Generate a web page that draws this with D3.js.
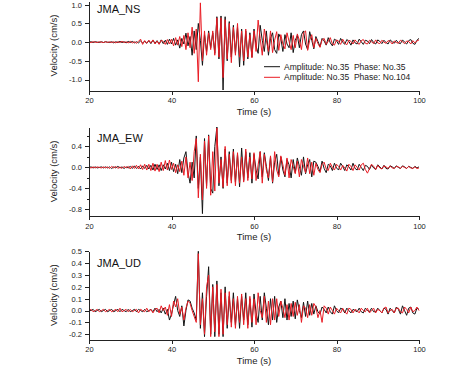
<!DOCTYPE html>
<meta charset="utf-8">
<style>

body {
  margin: 0;
  background: #fff;
}

svg {
  font-family: "Liberation Sans", Arial, sans-serif;
}

.axis path,
.axis line {
  stroke: #222;
  stroke-width: 1px;
  shape-rendering: crispEdges;
}

.axis text {
  font-size: 7.5px;
  fill: #222;
}

.trace {
  fill: none;
  stroke-width: 1px;
  stroke-linejoin: round;
}

.label {
  font-size: 9.5px;
  fill: #222;
}

.title {
  font-size: 11px;
  fill: #111;
}

.legend text {
  font-size: 8.5px;
  fill: #222;
  white-space: pre;
}

</style>
<svg width="474" height="366"></svg>
<script src="https://cdn.jsdelivr.net/npm/d3@7"></script>
<script>

// sample times (s), 0.5 s step from 20 to 100
var time = d3.range(0, 161).map(function(i) { return 20 + i * 0.5; });

var xTicks = [20, 40, 60, 80, 100];

var seriesNames = ["Amplitude: No.35  Phase: No.35", "Amplitude: No.35  Phase: No.104"];
var seriesColors = ["#141414", "#ea1c24"];

// JMA_NS velocity (cm/s)
var ns_ph35 = [
  0.00,0.01,-0.01,0.01,0.00,-0.01,0.01,-0.01,0.01,0.00,
  -0.01,0.01,-0.02,0.01,-0.01,0.02,-0.01,0.01,-0.02,0.02,
  -0.01,0.02,-0.02,0.01,-0.02,0.03,-0.02,0.02,-0.03,0.04,
  -0.04,0.05,-0.03,0.04,-0.05,0.06,-0.04,0.05,-0.06,0.08,
  -0.05,0.10,-0.08,0.06,-0.16,0.10,-0.05,0.24,-0.10,0.15,
  -0.35,0.30,-0.20,0.50,0.05,-0.62,0.20,-0.25,0.30,-0.15,
  0.25,-0.30,0.68,-0.45,0.70,-1.28,0.68,-0.50,0.55,-0.40,
  0.45,-0.30,0.40,-0.66,0.35,-0.62,0.30,-0.45,0.25,-0.40,
  0.35,-0.10,-0.30,0.45,0.05,-0.25,0.30,-0.35,0.10,0.25,
  -0.20,-0.30,0.22,0.10,-0.25,0.20,-0.05,-0.15,0.25,-0.28,
  0.05,0.18,-0.15,0.20,0.30,-0.05,-0.20,0.28,0.05,-0.18,
  0.15,0.02,-0.12,0.10,0.03,-0.08,0.12,-0.02,-0.10,0.08,
  0.04,-0.06,0.10,0.00,-0.06,0.07,0.02,-0.08,0.06,-0.02,
  -0.05,0.08,0.01,-0.06,0.05,0.03,-0.04,0.07,-0.01,-0.05,
  0.06,0.02,-0.04,0.05,-0.01,-0.05,0.06,0.01,-0.03,0.05,
  -0.02,-0.04,0.06,0.00,-0.05,0.04,0.07,-0.03,-0.06,0.05,
  0.10
];
var ns_ph104 = [
  0.00,-0.01,0.01,0.00,-0.01,0.01,0.00,-0.01,0.01,-0.01,
  0.01,-0.01,0.01,-0.02,0.01,-0.01,0.02,-0.01,0.01,-0.02,
  0.02,-0.02,0.01,-0.03,0.02,0.08,-0.06,0.04,-0.03,0.05,
  -0.02,0.06,-0.05,0.03,-0.06,0.05,0.02,-0.06,0.07,-0.05,
  0.08,-0.10,0.12,-0.08,0.15,-0.12,0.18,-0.20,0.25,-0.15,
  0.40,-0.30,0.35,-1.06,1.05,-0.50,0.30,-0.35,0.25,-0.20,
  0.30,-0.35,0.65,-0.40,0.65,-0.95,0.60,-0.45,0.50,-0.55,
  0.40,-0.35,0.50,-0.40,0.30,-0.50,0.35,-0.40,0.20,-0.42,
  0.30,-0.25,0.59,0.10,-0.35,0.35,0.05,-0.25,0.30,-0.28,
  0.05,0.28,-0.22,0.20,-0.05,-0.18,0.25,0.02,-0.20,0.18,
  -0.15,0.22,0.05,-0.20,0.25,0.30,-0.22,0.05,0.20,-0.15,
  0.10,-0.04,-0.14,0.06,0.10,-0.06,0.02,0.12,-0.05,-0.08,
  0.06,0.03,-0.06,0.08,-0.02,-0.07,0.05,0.02,-0.05,0.06,
  -0.01,-0.06,0.04,0.07,-0.03,-0.05,0.05,0.01,-0.04,0.06,
  -0.02,-0.04,0.05,0.00,-0.03,0.04,0.02,-0.05,0.03,-0.01,
  -0.03,0.05,0.01,-0.04,0.03,0.02,-0.05,0.04,-0.02,0.03,
  0.06
];

// JMA_EW velocity (cm/s)
var ew_ph35 = [
  0.00,0.01,-0.01,0.01,-0.01,0.00,0.01,-0.01,0.01,-0.01,
  0.01,-0.02,0.01,-0.01,0.02,-0.01,0.01,-0.02,0.01,-0.01,
  0.02,-0.02,0.03,-0.02,0.02,-0.03,0.03,-0.02,0.04,-0.03,
  0.04,-0.05,0.06,-0.04,0.05,-0.06,0.05,-0.03,0.08,-0.06,
  0.10,-0.08,0.06,-0.12,0.15,-0.10,0.18,0.30,-0.10,-0.30,
  0.10,-0.20,0.60,-0.40,0.20,-0.88,0.55,-0.35,0.62,-0.40,
  -0.49,0.40,0.77,-0.35,0.20,-0.40,0.35,-0.30,0.30,-0.25,
  0.35,-0.28,0.25,-0.37,0.37,-0.25,0.30,-0.20,0.28,-0.30,
  0.25,-0.05,-0.22,0.30,-0.18,0.28,0.02,-0.25,0.20,-0.30,
  0.10,0.25,-0.15,0.20,-0.05,-0.18,0.15,0.05,-0.20,0.15,
  -0.10,0.18,0.02,-0.15,0.20,-0.12,0.05,0.15,-0.18,0.12,
  0.10,0.02,-0.08,0.12,-0.02,-0.10,0.06,0.03,-0.06,0.08,
  -0.01,-0.05,0.08,0.02,-0.06,0.05,0.01,-0.05,0.08,-0.02,
  -0.05,0.06,0.00,-0.06,0.04,0.02,-0.04,0.05,-0.01,-0.04,
  0.05,0.01,-0.03,0.04,-0.02,-0.03,0.03,0.01,-0.02,0.03,
  0.00,-0.02,0.03,0.01,-0.02,0.02,0.00,-0.02,0.02,-0.01,
  0.01
];
var ew_ph104 = [
  0.00,-0.01,0.01,-0.01,0.01,0.00,-0.01,0.01,-0.01,0.01,
  -0.02,0.02,-0.01,0.02,-0.02,0.01,-0.02,0.02,-0.01,0.02,
  -0.03,0.03,-0.02,0.04,-0.03,0.05,-0.04,0.06,-0.05,0.06,
  -0.06,0.08,-0.07,0.06,-0.08,0.10,-0.06,0.13,-0.05,0.14,
  -0.04,0.08,-0.10,0.05,-0.08,0.12,-0.15,0.20,-0.20,0.10,
  -0.25,0.30,0.55,-0.58,0.25,-0.62,0.50,-0.40,0.60,-0.53,
  0.30,-0.45,0.75,-0.30,0.15,-0.38,0.40,-0.35,0.25,-0.30,
  0.30,-0.35,0.28,-0.30,0.20,-0.28,0.35,-0.25,0.20,-0.22,
  0.28,-0.25,0.05,0.30,-0.30,0.25,-0.05,-0.20,0.22,-0.28,
  0.30,-0.05,-0.18,0.22,0.05,-0.15,0.18,-0.20,0.15,0.02,
  -0.12,0.12,-0.18,0.15,0.02,-0.10,0.18,-0.12,0.10,-0.15,
  0.08,-0.04,-0.10,0.06,0.10,-0.03,-0.06,0.08,0.00,-0.05,
  0.06,0.02,-0.05,0.04,-0.01,-0.07,0.06,0.02,-0.06,0.05,
  0.00,-0.05,0.05,0.08,-0.04,-0.11,-0.02,0.06,0.02,-0.04,
  0.04,-0.01,-0.03,0.03,0.01,-0.02,0.03,-0.01,-0.02,0.02,
  0.01,-0.02,0.02,0.00,-0.02,0.02,-0.01,-0.02,0.01,-0.02,
  -0.01
];

// JMA_UD velocity (cm/s)
var ud_ph35 = [
  0.00,0.00,0.01,-0.01,0.00,0.01,-0.01,0.00,0.01,-0.01,
  0.00,0.01,-0.01,0.00,0.01,-0.01,0.01,0.00,-0.01,0.01,
  -0.01,0.00,0.01,-0.01,0.01,0.00,-0.01,0.01,-0.01,0.00,
  0.01,-0.01,0.02,-0.01,0.01,-0.02,0.02,-0.03,0.01,-0.08,
  -0.03,0.05,0.12,0.00,-0.05,0.04,-0.13,0.00,0.09,0.08,
  0.02,-0.02,-0.08,0.50,-0.15,0.15,-0.22,0.12,0.37,-0.20,
  0.22,-0.22,0.25,-0.20,0.15,-0.22,0.20,-0.15,0.12,-0.10,
  0.15,-0.12,0.10,-0.15,0.12,-0.08,0.15,-0.12,0.10,-0.14,
  0.14,-0.02,-0.10,0.12,-0.08,0.15,0.02,-0.12,0.10,-0.08,
  0.12,-0.10,0.03,0.08,-0.06,0.10,-0.08,0.06,-0.05,0.08,
  -0.07,0.09,0.00,-0.06,0.07,-0.05,0.08,-0.04,0.06,-0.03,
  0.04,-0.01,-0.03,0.03,0.01,-0.02,0.03,-0.01,-0.03,0.04,
  0.00,-0.02,0.02,0.01,-0.02,0.02,0.00,-0.02,0.01,0.00,
  -0.01,0.02,-0.01,-0.02,0.02,0.00,-0.01,0.02,-0.01,-0.01,
  0.02,0.00,-0.02,0.02,0.01,-0.03,0.02,0.00,-0.02,0.03,
  0.01,-0.03,0.04,0.00,-0.04,0.02,0.03,-0.02,-0.03,0.02,
  0.01
];
var ud_ph104 = [
  0.00,0.01,-0.01,0.00,0.01,-0.01,0.00,0.01,-0.01,0.00,
  0.01,-0.01,0.00,0.01,-0.01,0.02,-0.01,0.00,0.01,-0.01,
  0.01,-0.01,0.00,0.01,-0.02,0.01,0.00,-0.01,0.02,-0.01,
  0.01,-0.02,0.01,0.02,-0.02,0.04,0.00,0.03,-0.04,0.05,
  -0.05,0.08,0.03,0.10,-0.03,0.03,-0.08,0.02,0.08,0.06,
  0.00,-0.05,-0.10,0.48,-0.12,0.10,-0.20,0.20,0.30,-0.22,
  0.20,-0.18,0.22,-0.22,0.18,-0.20,0.15,-0.12,0.16,-0.14,
  0.10,-0.15,0.12,-0.10,0.14,-0.12,0.10,-0.15,0.12,-0.10,
  0.10,-0.12,0.15,0.00,-0.06,0.12,-0.10,0.08,-0.12,0.10,
  -0.08,0.10,-0.05,0.08,0.02,-0.06,0.05,-0.08,0.06,-0.05,
  0.07,-0.04,0.05,-0.10,0.04,0.02,-0.06,0.05,-0.04,0.06,
  0.03,-0.06,0.00,-0.10,0.04,0.02,-0.03,0.03,0.00,-0.03,
  0.02,0.00,-0.02,0.02,-0.01,-0.03,0.02,0.01,-0.02,0.01,
  0.00,-0.02,0.02,0.00,-0.01,0.02,-0.02,0.00,0.02,-0.02,
  0.01,0.00,-0.02,0.02,0.03,-0.02,0.00,0.01,-0.02,0.02,
  0.02,-0.01,-0.02,0.03,0.01,-0.02,0.03,-0.01,0.00,0.03,
  0.00
];

var ns_ticks = [-1.0, -0.5, 0.0, 0.5, 1.0];
var ew_ticks = [-0.8, -0.4, 0.0, 0.4];
var ew_minor = [-0.6, -0.2, 0.2, 0.6];
var ud_ticks = [-0.2, -0.1, 0.0, 0.1, 0.2, 0.3, 0.4, 0.5];

var panels = [
  {name: "JMA_NS", traces: [ns_ph35, ns_ph104], domain: [-1.28, 1.1], top: 1, bottom: 90, ticks: ns_ticks, minor: [], titleY: 13},
  {name: "JMA_EW", traces: [ew_ph35, ew_ph104], domain: [-0.92, 0.77], top: 127, bottom: 215.7, ticks: ew_ticks, minor: ew_minor, titleY: 141.7},
  {name: "JMA_UD", traces: [ud_ph35, ud_ph104], domain: [-0.24, 0.5], top: 251.3, bottom: 339, ticks: ud_ticks, minor: [], titleY: 267.3}
];

var svg = d3.select("svg");

var x = d3.scaleLinear()
    .domain([20, 100])
    .range([89, 419]);

var axisX = 88.5;

panels.forEach(function(p, k) {
  var y = d3.scaleLinear()
      .domain(p.domain)
      .range([p.bottom, p.top]);

  var g = svg.append("g");

  var line = d3.line()
      .x(function(d, i) { return x(time[i]); })
      .y(function(d) { return y(d); });

  p.traces.forEach(function(values, s) {
    g.append("path")
        .datum(values)
        .attr("class", "trace")
        .attr("stroke", seriesColors[s])
        .attr("d", line);
  });

  // minor y ticks
  if (p.minor.length) {
    g.append("g")
        .attr("class", "axis")
        .attr("transform", "translate(" + axisX + ",0)")
        .call(d3.axisLeft(y).tickValues(p.minor).tickSize(2).tickSizeOuter(0).tickFormat(""))
        .select(".domain").remove();
  }

  g.append("g")
      .attr("class", "axis")
      .attr("transform", "translate(" + axisX + ",0)")
      .call(d3.axisLeft(y).tickValues(p.ticks).tickSize(3.5).tickPadding(3).tickSizeOuter(0)
        .tickFormat(function(d) { return d3.format(".1f")(d).replace("\u2212", "-"); }));

  g.append("g")
      .attr("class", "axis")
      .attr("transform", "translate(0," + (p.bottom + 0.5) + ")")
      .call(d3.axisBottom(x).tickValues(xTicks).tickSize(4).tickPadding(3.5).tickSizeOuter(0));

  g.append("text")
      .attr("class", "title")
      .attr("x", 97)
      .attr("y", p.titleY)
      .text(p.name);

  g.append("text")
      .attr("class", "label")
      .attr("transform", "translate(54," + ((p.top + p.bottom) / 2) + ") rotate(-90)")
      .attr("dy", "0.35em")
      .style("text-anchor", "middle")
      .text("Velocity (cm/s)");

  g.append("text")
      .attr("class", "label")
      .attr("x", (x.range()[0] + x.range()[1]) / 2)
      .attr("y", p.bottom + 24.5)
      .style("text-anchor", "middle")
      .text("Time (s)");

  if (k === 0) {
    var legend = g.append("g")
        .attr("class", "legend");

    seriesNames.forEach(function(name, s) {
      var ly = 66.7 + s * 10.6;
      legend.append("line")
          .attr("x1", 264)
          .attr("x2", 280)
          .attr("y1", ly)
          .attr("y2", ly)
          .attr("stroke", seriesColors[s])
          .attr("stroke-width", 1);
      legend.append("text")
          .attr("x", 284)
          .attr("y", ly)
          .attr("dy", "0.35em")
          .text(name);
    });
  }
});

</script>
